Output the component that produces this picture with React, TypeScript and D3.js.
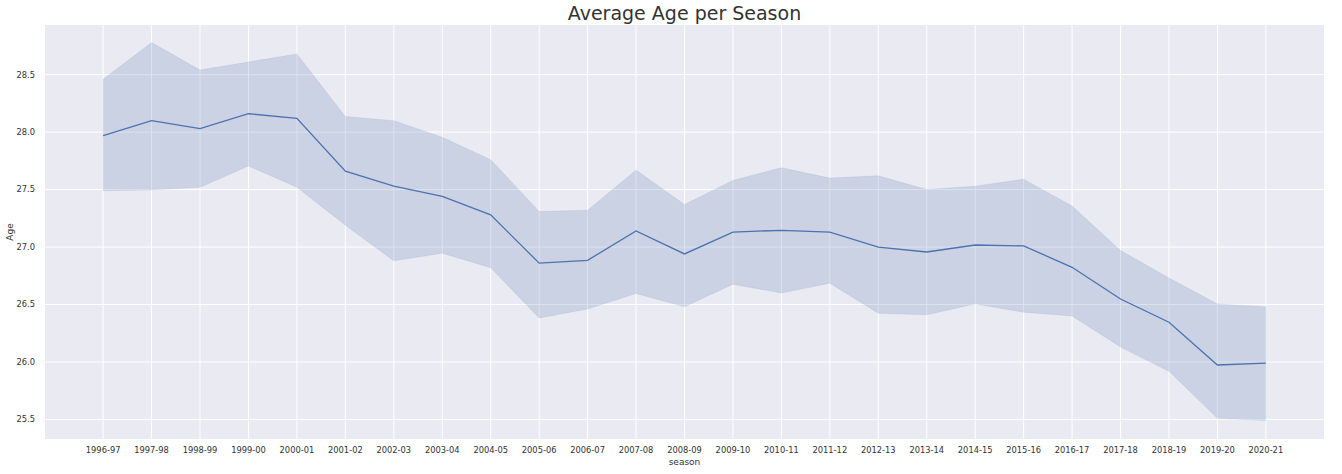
import * as d3 from 'd3';
import { useMemo } from 'react';

const seasons = [
    '1996-97', '1997-98', '1998-99', '1999-00', '2000-01', '2001-02', '2002-03', '2003-04',
    '2004-05', '2005-06', '2006-07', '2007-08', '2008-09', '2009-10', '2010-11', '2011-12',
    '2012-13', '2013-14', '2014-15', '2015-16', '2016-17', '2017-18', '2018-19', '2019-20',
    '2020-21',
];

const meanAge = [
    27.97, 28.1, 28.03, 28.16, 28.12, 27.66, 27.53, 27.44, 27.28, 26.86, 26.885, 27.14, 26.94,
    27.13, 27.146, 27.13, 27.0, 26.957, 27.018, 27.01, 26.824, 26.548, 26.346, 25.974, 25.99,
];

const upperAge = [
    28.46, 28.78, 28.54, 28.61, 28.68, 28.135, 28.1, 27.955, 27.76, 27.31, 27.32, 27.67, 27.37,
    27.58, 27.69, 27.6, 27.62, 27.5, 27.53, 27.59, 27.357, 26.97, 26.73, 26.505, 26.48,
];

const lowerAge = [
    27.49, 27.497, 27.52, 27.705, 27.52, 27.19, 26.88, 26.946, 26.82, 26.383, 26.46, 26.595,
    26.48, 26.676, 26.6, 26.685, 26.424, 26.41, 26.505, 26.433, 26.4, 26.13, 25.92, 25.51, 25.49,
];

const yTicks = [25.5, 26.0, 26.5, 27.0, 27.5, 28.0, 28.5];

const WIDTH = 1342;
const HEIGHT = 474;
const FONT = 'DejaVu Sans, sans-serif';
const BLUE = '#4c72b0';
const TEXT = '#333';

export default function App() {
    const left = 45;
    const right = 1324;
    const top = 25;
    const bottom = 439;

    const x = useMemo(
        () => d3.scaleLinear().domain([-1.2, seasons.length - 1 + 1.2]).range([left, right]),
        []
    );
    const y = useMemo(
        () => d3.scaleLinear().domain([25.33, 28.932]).range([bottom, top]),
        []
    );

    const idx = d3.range(seasons.length);

    const band = d3
        .area<number>()
        .x((i) => x(i))
        .y0((i) => y(lowerAge[i]))
        .y1((i) => y(upperAge[i]))(idx);

    const line = d3
        .line<number>()
        .x((i) => x(i))
        .y((i) => y(meanAge[i]))(idx);

    return (
        <svg
            width={WIDTH}
            height={HEIGHT}
            viewBox={`0 0 ${WIDTH} ${HEIGHT}`}
            style={{ position: 'absolute', left: 0, top: 0, background: '#fff' }}
            fontFamily={FONT}
        >
            <rect x={left} y={top} width={right - left} height={bottom - top} fill="#eaeaf2" />
            {idx.map((i) => (
                <line key={'gx' + i} x1={x(i)} x2={x(i)} y1={top} y2={bottom} stroke="#fff" strokeWidth={1} />
            ))}
            {yTicks.map((t) => (
                <line key={'gy' + t} x1={left} x2={right} y1={y(t)} y2={y(t)} stroke="#fff" strokeWidth={1} />
            ))}
            <path d={band!} fill={BLUE} fillOpacity={0.2} stroke={BLUE} strokeOpacity={0.1} />
            <path d={line!} fill="none" stroke={BLUE} strokeWidth={1.3} />
            {yTicks.map((t) => (
                <text
                    key={'ty' + t}
                    x={left - 10}
                    y={y(t)}
                    dy="0.35em"
                    textAnchor="end"
                    fontSize={8.3}
                    fill={TEXT}
                >
                    {d3.format('.1f')(t)}
                </text>
            ))}
            {seasons.map((s, i) => (
                <text key={'tx' + s} x={x(i)} y={bottom + 14} textAnchor="middle" fontSize={8.3} fill={TEXT}>
                    {s}
                </text>
            ))}
            <text x={(left + right) / 2} y={bottom + 26} textAnchor="middle" fontSize={9} fill={TEXT}>
                season
            </text>
            <text
                transform={`translate(13, ${(top + bottom) / 2}) rotate(-90)`}
                textAnchor="middle"
                fontSize={9}
                fill={TEXT}
            >
                Age
            </text>
            <text x={(left + right) / 2} y={20} textAnchor="middle" fontSize={19} fill={TEXT}>
                Average Age per Season
            </text>
        </svg>
    );
}
